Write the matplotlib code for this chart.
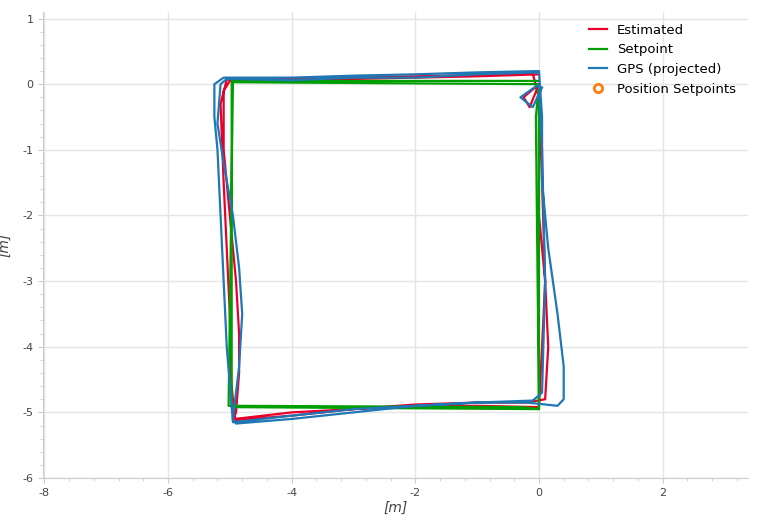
import matplotlib
matplotlib.use("Agg")
import matplotlib.pyplot as plt
import numpy as np
plt.rcParams['axes.unicode_minus'] = False

est_x = [0.0,-1,-2,-3,-4,-5.0,-5.1,-5.1,-5.0,-4.9,-4.85,-4.85,-4.9,-4.95,-4.0,-3.0,-2.0,-1.0,-0.2,0.1,0.15,0.1,0.0,0.0,0.0,-0.1,
         -1,-2,-3,-4,-5.05,-5.15,-5.1,-5.05,-5.0,-4.98,-4.92,-4.0,-3.0,-2.0,-1.0,0.0,0.05,0.1,0.05,0.0,-0.25,-0.15,0.0]
est_y = [0.15,0.12,0.1,0.08,0.06,0.05,-0.1,-1.0,-2.0,-3.0,-3.8,-4.4,-5.0,-5.12,-5.05,-4.95,-4.88,-4.85,-4.85,-4.8,-4.0,-3.0,-2.0,-1.0,-0.2,0.16,
         0.14,0.12,0.1,0.08,0.07,-0.3,-1.5,-2.5,-3.5,-4.5,-5.1,-5.0,-4.95,-4.9,-4.9,-4.92,-4.0,-3.0,-1.5,0.0,-0.2,-0.35,0.0]
gps_x = [0.0,-1,-2,-3,-4,-5.05,-5.15,-5.2,-5.1,-4.95,-4.85,-4.8,-4.85,-4.95,-4.9,-4.0,-3.0,-2.0,-1.0,-0.2,0.3,0.4,0.4,0.3,0.15,0.05,0.05,0.0,
         -1,-2,-3,-4,-5.1,-5.25,-5.25,-5.2,-5.15,-5.1,-5.05,-4.95,-4.0,-3.0,-2.0,-1.0,-0.1,0.05,0.1,0.05,0.0,-0.3,-0.1,0.05]
gps_y = [0.18,0.15,0.1,0.1,0.06,0.08,0.0,-0.6,-1.2,-2.0,-2.8,-3.5,-4.3,-5.1,-5.17,-5.1,-5.0,-4.9,-4.85,-4.85,-4.9,-4.8,-4.3,-3.5,-2.5,-1.5,-0.5,0.2,
         0.18,0.15,0.13,0.1,0.1,0.0,-0.5,-1.0,-2.0,-3.0,-4.0,-5.15,-5.05,-4.95,-4.9,-4.85,-4.82,-4.7,-3.0,-1.0,0.0,-0.2,-0.35,-0.05]
sp_x = [0.0,-4.97,-4.97,-4.97,0.0,0.0,-4.95,-5.02,-0.3,0.0,-0.05,0.0]
sp_y = [0.05,0.05,-4.9,-4.92,-4.95,0.0,0.03,-4.9,-4.92,-4.95,-0.5,0.0]

fig = plt.figure(figsize=(7.84,5.21), dpi=100)
ax = fig.add_axes([0.055,0.0825,0.899,0.8945])
ax.plot(est_x, est_y, color="#e8002a", lw=1.6, label="Estimated")
ax.plot(sp_x, sp_y, color="#009e00", lw=1.6, label="Setpoint")
ax.plot(gps_x, gps_y, color="#1f77b4", lw=1.6, label="GPS (projected)")
ax.plot([], [], 'o', mfc='none', mec="#ff7f0e", mew=2, label="Position Setpoints")
ax.set_xlim(-8.02,3.38); ax.set_ylim(-6,1.1)
ax.set_xticks(range(-8,3,2)); ax.set_yticks(range(-6,2))
ax.set_xticks(np.arange(-8,3.4,0.4), minor=True)
ax.set_yticks(np.arange(-6,1.1,0.2), minor=True)
ax.grid(True, color="#e5e5e5", lw=1); ax.set_axisbelow(True)
for s in ["top","right"]: ax.spines[s].set_visible(False)
for s in ["left","bottom"]: ax.spines[s].set_color("#cccccc")
ax.tick_params(labelsize=8, color="#cccccc", labelcolor="#444444")
ax.tick_params(which="minor", color="#cccccc", length=2)
ax.set_xlabel("[m]", style="italic", fontsize=10, color="#444444", labelpad=2)
ax.set_ylabel("[m]", style="italic", fontsize=10, color="#444444", labelpad=0)
ax.yaxis.set_label_coords(-0.045, 0.5)
ax.legend(loc="upper right", frameon=False, fontsize=9.5, handlelength=1.3, bbox_to_anchor=(1.0,1.0))
fig.savefig("out.png", dpi=100)
